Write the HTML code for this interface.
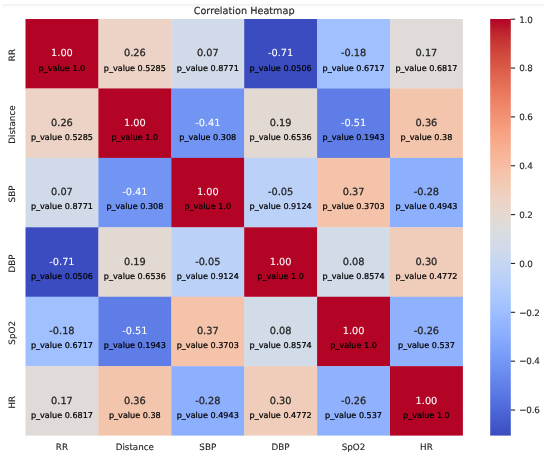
<!DOCTYPE html>
<html><head><meta charset="utf-8"><title>Correlation Heatmap</title>
<style>
html,body{margin:0;padding:0;background:#fff;}
body{width:550px;height:455px;overflow:hidden;position:relative;}
svg{position:absolute;left:0;top:0;display:block;font-family:"DejaVu Sans","Liberation Sans",sans-serif;}
text{text-rendering:geometricPrecision;}
</style></head><body>
<svg width="550" height="455" viewBox="0 0 550 455">
<defs>
<linearGradient id="topband" x1="0" y1="0" x2="0" y2="1"><stop offset="0" stop-color="#f1f1f1"/><stop offset="1" stop-color="#ffffff"/></linearGradient>
<linearGradient id="cbar" x1="0" y1="0" x2="0" y2="1">
<stop offset="0.0000" stop-color="#b40426"/>
<stop offset="0.0156" stop-color="#b8122a"/>
<stop offset="0.0312" stop-color="#be242e"/>
<stop offset="0.0469" stop-color="#c43032"/>
<stop offset="0.0625" stop-color="#ca3b37"/>
<stop offset="0.0781" stop-color="#cf453c"/>
<stop offset="0.0938" stop-color="#d44e41"/>
<stop offset="0.1094" stop-color="#d85646"/>
<stop offset="0.1250" stop-color="#dd5f4b"/>
<stop offset="0.1406" stop-color="#e16751"/>
<stop offset="0.1562" stop-color="#e46e56"/>
<stop offset="0.1719" stop-color="#e8765c"/>
<stop offset="0.1875" stop-color="#eb7d62"/>
<stop offset="0.2031" stop-color="#ee8468"/>
<stop offset="0.2188" stop-color="#f08b6e"/>
<stop offset="0.2344" stop-color="#f29274"/>
<stop offset="0.2500" stop-color="#f4987a"/>
<stop offset="0.2656" stop-color="#f59f80"/>
<stop offset="0.2812" stop-color="#f6a586"/>
<stop offset="0.2969" stop-color="#f7aa8c"/>
<stop offset="0.3125" stop-color="#f7b093"/>
<stop offset="0.3281" stop-color="#f7b599"/>
<stop offset="0.3438" stop-color="#f7ba9f"/>
<stop offset="0.3594" stop-color="#f6bfa6"/>
<stop offset="0.3750" stop-color="#f5c4ac"/>
<stop offset="0.3906" stop-color="#f3c8b2"/>
<stop offset="0.4062" stop-color="#f1ccb8"/>
<stop offset="0.4219" stop-color="#efcfbf"/>
<stop offset="0.4375" stop-color="#ecd3c5"/>
<stop offset="0.4531" stop-color="#e9d5cb"/>
<stop offset="0.4688" stop-color="#e5d8d1"/>
<stop offset="0.4844" stop-color="#e1dad6"/>
<stop offset="0.5000" stop-color="#dddcdc"/>
<stop offset="0.5156" stop-color="#d9dce1"/>
<stop offset="0.5312" stop-color="#d5dbe5"/>
<stop offset="0.5469" stop-color="#d1dae9"/>
<stop offset="0.5625" stop-color="#ccd9ed"/>
<stop offset="0.5781" stop-color="#c7d7f0"/>
<stop offset="0.5938" stop-color="#c3d5f4"/>
<stop offset="0.6094" stop-color="#bed2f6"/>
<stop offset="0.6250" stop-color="#b9d0f9"/>
<stop offset="0.6406" stop-color="#b3cdfb"/>
<stop offset="0.6562" stop-color="#aec9fc"/>
<stop offset="0.6719" stop-color="#a9c6fd"/>
<stop offset="0.6875" stop-color="#a3c2fe"/>
<stop offset="0.7031" stop-color="#9ebeff"/>
<stop offset="0.7188" stop-color="#98b9ff"/>
<stop offset="0.7344" stop-color="#93b5fe"/>
<stop offset="0.7500" stop-color="#8db0fe"/>
<stop offset="0.7656" stop-color="#88abfd"/>
<stop offset="0.7812" stop-color="#82a6fb"/>
<stop offset="0.7969" stop-color="#7da0f9"/>
<stop offset="0.8125" stop-color="#779af7"/>
<stop offset="0.8281" stop-color="#7295f4"/>
<stop offset="0.8438" stop-color="#6c8ff1"/>
<stop offset="0.8594" stop-color="#6788ee"/>
<stop offset="0.8750" stop-color="#6282ea"/>
<stop offset="0.8906" stop-color="#5d7ce6"/>
<stop offset="0.9062" stop-color="#5875e1"/>
<stop offset="0.9219" stop-color="#536edd"/>
<stop offset="0.9375" stop-color="#4e68d8"/>
<stop offset="0.9531" stop-color="#4961d2"/>
<stop offset="0.9688" stop-color="#445acc"/>
<stop offset="0.9844" stop-color="#3f53c6"/>
<stop offset="1.0000" stop-color="#3b4cc0"/>
</linearGradient></defs>
<rect x="0" y="0" width="550" height="455" fill="#ffffff"/>
<rect x="2" y="4" width="542" height="4" fill="url(#topband)"/>
<g shape-rendering="auto">
<rect x="25.50" y="19.00" width="73.20" height="69.73" fill="#b40426"/>
<rect x="98.40" y="19.00" width="73.20" height="69.73" fill="#ecd3c5"/>
<rect x="171.30" y="19.00" width="73.20" height="69.73" fill="#d1dae9"/>
<rect x="244.20" y="19.00" width="73.20" height="69.73" fill="#3b4cc0"/>
<rect x="317.10" y="19.00" width="73.20" height="69.73" fill="#a1c0ff"/>
<rect x="390.00" y="19.00" width="72.90" height="69.73" fill="#e0dbd8"/>
<rect x="25.50" y="88.43" width="73.20" height="69.73" fill="#ecd3c5"/>
<rect x="98.40" y="88.43" width="73.20" height="69.73" fill="#b40426"/>
<rect x="171.30" y="88.43" width="73.20" height="69.73" fill="#7295f4"/>
<rect x="244.20" y="88.43" width="73.20" height="69.73" fill="#e3d9d3"/>
<rect x="317.10" y="88.43" width="73.20" height="69.73" fill="#5e7de7"/>
<rect x="390.00" y="88.43" width="72.90" height="69.73" fill="#f4c5ad"/>
<rect x="25.50" y="157.87" width="73.20" height="69.73" fill="#d1dae9"/>
<rect x="98.40" y="157.87" width="73.20" height="69.73" fill="#7295f4"/>
<rect x="171.30" y="157.87" width="73.20" height="69.73" fill="#b40426"/>
<rect x="244.20" y="157.87" width="73.20" height="69.73" fill="#bbd1f8"/>
<rect x="317.10" y="157.87" width="73.20" height="69.73" fill="#f5c2aa"/>
<rect x="390.00" y="157.87" width="72.90" height="69.73" fill="#8caffe"/>
<rect x="25.50" y="227.30" width="73.20" height="69.73" fill="#3b4cc0"/>
<rect x="98.40" y="227.30" width="73.20" height="69.73" fill="#e3d9d3"/>
<rect x="171.30" y="227.30" width="73.20" height="69.73" fill="#bbd1f8"/>
<rect x="244.20" y="227.30" width="73.20" height="69.73" fill="#b40426"/>
<rect x="317.10" y="227.30" width="73.20" height="69.73" fill="#d2dbe8"/>
<rect x="390.00" y="227.30" width="72.90" height="69.73" fill="#f0cdbb"/>
<rect x="25.50" y="296.73" width="73.20" height="69.73" fill="#a1c0ff"/>
<rect x="98.40" y="296.73" width="73.20" height="69.73" fill="#5e7de7"/>
<rect x="171.30" y="296.73" width="73.20" height="69.73" fill="#f5c2aa"/>
<rect x="244.20" y="296.73" width="73.20" height="69.73" fill="#d2dbe8"/>
<rect x="317.10" y="296.73" width="73.20" height="69.73" fill="#b40426"/>
<rect x="390.00" y="296.73" width="72.90" height="69.73" fill="#90b2fe"/>
<rect x="25.50" y="366.17" width="73.20" height="69.43" fill="#e0dbd8"/>
<rect x="98.40" y="366.17" width="73.20" height="69.43" fill="#f4c5ad"/>
<rect x="171.30" y="366.17" width="73.20" height="69.43" fill="#8caffe"/>
<rect x="244.20" y="366.17" width="73.20" height="69.43" fill="#f0cdbb"/>
<rect x="317.10" y="366.17" width="73.20" height="69.43" fill="#90b2fe"/>
<rect x="390.00" y="366.17" width="72.90" height="69.43" fill="#b40426"/>
</g>
<g text-anchor="middle">
<text x="61.95" y="56.42" font-size="9.75" fill="#ffffff" stroke="#ffffff" stroke-width="0.10">1.00</text>
<text x="61.95" y="70.57" font-size="8.08" fill="#000000" stroke="#000000" stroke-width="0.22">p_value 1.0</text>
<text x="134.85" y="56.42" font-size="9.75" fill="#262626" stroke="#262626" stroke-width="0.30">0.26</text>
<text x="134.85" y="70.57" font-size="8.08" fill="#000000" stroke="#000000" stroke-width="0.22">p_value 0.5285</text>
<text x="207.75" y="56.42" font-size="9.75" fill="#262626" stroke="#262626" stroke-width="0.30">0.07</text>
<text x="207.75" y="70.57" font-size="8.08" fill="#000000" stroke="#000000" stroke-width="0.22">p_value 0.8771</text>
<text x="280.65" y="56.42" font-size="9.75" fill="#ffffff" stroke="#ffffff" stroke-width="0.10">-0.71</text>
<text x="280.65" y="70.57" font-size="8.08" fill="#000000" stroke="#000000" stroke-width="0.22">p_value 0.0506</text>
<text x="353.55" y="56.42" font-size="9.75" fill="#262626" stroke="#262626" stroke-width="0.30">-0.18</text>
<text x="353.55" y="70.57" font-size="8.08" fill="#000000" stroke="#000000" stroke-width="0.22">p_value 0.6717</text>
<text x="426.45" y="56.42" font-size="9.75" fill="#262626" stroke="#262626" stroke-width="0.30">0.17</text>
<text x="426.45" y="70.57" font-size="8.08" fill="#000000" stroke="#000000" stroke-width="0.22">p_value 0.6817</text>
<text x="61.95" y="125.85" font-size="9.75" fill="#262626" stroke="#262626" stroke-width="0.30">0.26</text>
<text x="61.95" y="140.00" font-size="8.08" fill="#000000" stroke="#000000" stroke-width="0.22">p_value 0.5285</text>
<text x="134.85" y="125.85" font-size="9.75" fill="#ffffff" stroke="#ffffff" stroke-width="0.10">1.00</text>
<text x="134.85" y="140.00" font-size="8.08" fill="#000000" stroke="#000000" stroke-width="0.22">p_value 1.0</text>
<text x="207.75" y="125.85" font-size="9.75" fill="#ffffff" stroke="#ffffff" stroke-width="0.10">-0.41</text>
<text x="207.75" y="140.00" font-size="8.08" fill="#000000" stroke="#000000" stroke-width="0.22">p_value 0.308</text>
<text x="280.65" y="125.85" font-size="9.75" fill="#262626" stroke="#262626" stroke-width="0.30">0.19</text>
<text x="280.65" y="140.00" font-size="8.08" fill="#000000" stroke="#000000" stroke-width="0.22">p_value 0.6536</text>
<text x="353.55" y="125.85" font-size="9.75" fill="#ffffff" stroke="#ffffff" stroke-width="0.10">-0.51</text>
<text x="353.55" y="140.00" font-size="8.08" fill="#000000" stroke="#000000" stroke-width="0.22">p_value 0.1943</text>
<text x="426.45" y="125.85" font-size="9.75" fill="#262626" stroke="#262626" stroke-width="0.30">0.36</text>
<text x="426.45" y="140.00" font-size="8.08" fill="#000000" stroke="#000000" stroke-width="0.22">p_value 0.38</text>
<text x="61.95" y="195.28" font-size="9.75" fill="#262626" stroke="#262626" stroke-width="0.30">0.07</text>
<text x="61.95" y="209.43" font-size="8.08" fill="#000000" stroke="#000000" stroke-width="0.22">p_value 0.8771</text>
<text x="134.85" y="195.28" font-size="9.75" fill="#ffffff" stroke="#ffffff" stroke-width="0.10">-0.41</text>
<text x="134.85" y="209.43" font-size="8.08" fill="#000000" stroke="#000000" stroke-width="0.22">p_value 0.308</text>
<text x="207.75" y="195.28" font-size="9.75" fill="#ffffff" stroke="#ffffff" stroke-width="0.10">1.00</text>
<text x="207.75" y="209.43" font-size="8.08" fill="#000000" stroke="#000000" stroke-width="0.22">p_value 1.0</text>
<text x="280.65" y="195.28" font-size="9.75" fill="#262626" stroke="#262626" stroke-width="0.30">-0.05</text>
<text x="280.65" y="209.43" font-size="8.08" fill="#000000" stroke="#000000" stroke-width="0.22">p_value 0.9124</text>
<text x="353.55" y="195.28" font-size="9.75" fill="#262626" stroke="#262626" stroke-width="0.30">0.37</text>
<text x="353.55" y="209.43" font-size="8.08" fill="#000000" stroke="#000000" stroke-width="0.22">p_value 0.3703</text>
<text x="426.45" y="195.28" font-size="9.75" fill="#262626" stroke="#262626" stroke-width="0.30">-0.28</text>
<text x="426.45" y="209.43" font-size="8.08" fill="#000000" stroke="#000000" stroke-width="0.22">p_value 0.4943</text>
<text x="61.95" y="264.72" font-size="9.75" fill="#ffffff" stroke="#ffffff" stroke-width="0.10">-0.71</text>
<text x="61.95" y="278.87" font-size="8.08" fill="#000000" stroke="#000000" stroke-width="0.22">p_value 0.0506</text>
<text x="134.85" y="264.72" font-size="9.75" fill="#262626" stroke="#262626" stroke-width="0.30">0.19</text>
<text x="134.85" y="278.87" font-size="8.08" fill="#000000" stroke="#000000" stroke-width="0.22">p_value 0.6536</text>
<text x="207.75" y="264.72" font-size="9.75" fill="#262626" stroke="#262626" stroke-width="0.30">-0.05</text>
<text x="207.75" y="278.87" font-size="8.08" fill="#000000" stroke="#000000" stroke-width="0.22">p_value 0.9124</text>
<text x="280.65" y="264.72" font-size="9.75" fill="#ffffff" stroke="#ffffff" stroke-width="0.10">1.00</text>
<text x="280.65" y="278.87" font-size="8.08" fill="#000000" stroke="#000000" stroke-width="0.22">p_value 1.0</text>
<text x="353.55" y="264.72" font-size="9.75" fill="#262626" stroke="#262626" stroke-width="0.30">0.08</text>
<text x="353.55" y="278.87" font-size="8.08" fill="#000000" stroke="#000000" stroke-width="0.22">p_value 0.8574</text>
<text x="426.45" y="264.72" font-size="9.75" fill="#262626" stroke="#262626" stroke-width="0.30">0.30</text>
<text x="426.45" y="278.87" font-size="8.08" fill="#000000" stroke="#000000" stroke-width="0.22">p_value 0.4772</text>
<text x="61.95" y="334.15" font-size="9.75" fill="#262626" stroke="#262626" stroke-width="0.30">-0.18</text>
<text x="61.95" y="348.30" font-size="8.08" fill="#000000" stroke="#000000" stroke-width="0.22">p_value 0.6717</text>
<text x="134.85" y="334.15" font-size="9.75" fill="#ffffff" stroke="#ffffff" stroke-width="0.10">-0.51</text>
<text x="134.85" y="348.30" font-size="8.08" fill="#000000" stroke="#000000" stroke-width="0.22">p_value 0.1943</text>
<text x="207.75" y="334.15" font-size="9.75" fill="#262626" stroke="#262626" stroke-width="0.30">0.37</text>
<text x="207.75" y="348.30" font-size="8.08" fill="#000000" stroke="#000000" stroke-width="0.22">p_value 0.3703</text>
<text x="280.65" y="334.15" font-size="9.75" fill="#262626" stroke="#262626" stroke-width="0.30">0.08</text>
<text x="280.65" y="348.30" font-size="8.08" fill="#000000" stroke="#000000" stroke-width="0.22">p_value 0.8574</text>
<text x="353.55" y="334.15" font-size="9.75" fill="#ffffff" stroke="#ffffff" stroke-width="0.10">1.00</text>
<text x="353.55" y="348.30" font-size="8.08" fill="#000000" stroke="#000000" stroke-width="0.22">p_value 1.0</text>
<text x="426.45" y="334.15" font-size="9.75" fill="#262626" stroke="#262626" stroke-width="0.30">-0.26</text>
<text x="426.45" y="348.30" font-size="8.08" fill="#000000" stroke="#000000" stroke-width="0.22">p_value 0.537</text>
<text x="61.95" y="403.58" font-size="9.75" fill="#262626" stroke="#262626" stroke-width="0.30">0.17</text>
<text x="61.95" y="417.73" font-size="8.08" fill="#000000" stroke="#000000" stroke-width="0.22">p_value 0.6817</text>
<text x="134.85" y="403.58" font-size="9.75" fill="#262626" stroke="#262626" stroke-width="0.30">0.36</text>
<text x="134.85" y="417.73" font-size="8.08" fill="#000000" stroke="#000000" stroke-width="0.22">p_value 0.38</text>
<text x="207.75" y="403.58" font-size="9.75" fill="#262626" stroke="#262626" stroke-width="0.30">-0.28</text>
<text x="207.75" y="417.73" font-size="8.08" fill="#000000" stroke="#000000" stroke-width="0.22">p_value 0.4943</text>
<text x="280.65" y="403.58" font-size="9.75" fill="#262626" stroke="#262626" stroke-width="0.30">0.30</text>
<text x="280.65" y="417.73" font-size="8.08" fill="#000000" stroke="#000000" stroke-width="0.22">p_value 0.4772</text>
<text x="353.55" y="403.58" font-size="9.75" fill="#262626" stroke="#262626" stroke-width="0.30">-0.26</text>
<text x="353.55" y="417.73" font-size="8.08" fill="#000000" stroke="#000000" stroke-width="0.22">p_value 0.537</text>
<text x="426.45" y="403.58" font-size="9.75" fill="#ffffff" stroke="#ffffff" stroke-width="0.10">1.00</text>
<text x="426.45" y="417.73" font-size="8.08" fill="#000000" stroke="#000000" stroke-width="0.22">p_value 1.0</text>
</g>
<text x="244.15" y="13.90" font-size="9.70" fill="#262626" stroke="#262626" stroke-width="0.15" text-anchor="middle">Correlation Heatmap</text>
<g font-size="8.78" fill="#262626" stroke="#262626" stroke-width="0.12" text-anchor="middle">
<text x="61.95" y="450.00">RR</text>
<text x="134.85" y="450.00">Distance</text>
<text x="207.75" y="450.00">SBP</text>
<text x="280.65" y="450.00">DBP</text>
<text x="353.55" y="450.00">SpO2</text>
<text x="426.45" y="450.00">HR</text>
<text transform="translate(15.40,55.12) rotate(-90)">RR</text>
<text transform="translate(15.40,124.55) rotate(-90)">Distance</text>
<text transform="translate(15.40,193.98) rotate(-90)">SBP</text>
<text transform="translate(15.40,263.42) rotate(-90)">DBP</text>
<text transform="translate(15.40,332.85) rotate(-90)">SpO2</text>
<text transform="translate(15.40,402.28) rotate(-90)">HR</text>
</g>
<rect x="490.20" y="19.00" width="20.60" height="416.60" fill="url(#cbar)"/>
<g font-size="8.78" fill="#262626" stroke="#262626" stroke-width="0.12" letter-spacing="-0.18">
<line x1="510.80" x2="515.10" y1="19.20" y2="19.20" stroke="#262626" stroke-width="1.1"/>
<text x="519.20" y="22.50">1.0</text>
<line x1="510.80" x2="515.10" y1="68.05" y2="68.05" stroke="#262626" stroke-width="1.1"/>
<text x="519.20" y="71.35">0.8</text>
<line x1="510.80" x2="515.10" y1="116.90" y2="116.90" stroke="#262626" stroke-width="1.1"/>
<text x="519.20" y="120.20">0.6</text>
<line x1="510.80" x2="515.10" y1="165.75" y2="165.75" stroke="#262626" stroke-width="1.1"/>
<text x="519.20" y="169.05">0.4</text>
<line x1="510.80" x2="515.10" y1="214.60" y2="214.60" stroke="#262626" stroke-width="1.1"/>
<text x="519.20" y="217.90">0.2</text>
<line x1="510.80" x2="515.10" y1="263.45" y2="263.45" stroke="#262626" stroke-width="1.1"/>
<text x="519.20" y="266.75">0.0</text>
<line x1="510.80" x2="515.10" y1="312.31" y2="312.31" stroke="#262626" stroke-width="1.1"/>
<text x="519.20" y="315.61">−0.2</text>
<line x1="510.80" x2="515.10" y1="361.16" y2="361.16" stroke="#262626" stroke-width="1.1"/>
<text x="519.20" y="364.46">−0.4</text>
<line x1="510.80" x2="515.10" y1="410.01" y2="410.01" stroke="#262626" stroke-width="1.1"/>
<text x="519.20" y="413.31">−0.6</text>
</g>
</svg></body></html>
